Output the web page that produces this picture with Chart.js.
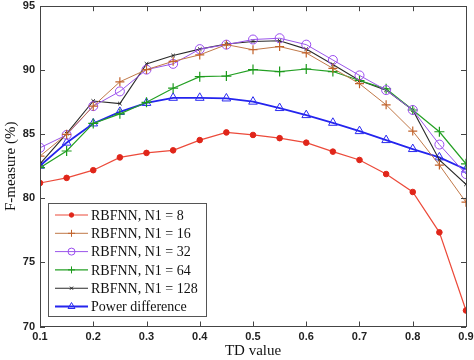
<!DOCTYPE html>
<html>
<head>
<meta charset="utf-8">
<script src="https://cdn.jsdelivr.net/npm/chart.js@4.4.1/dist/chart.umd.min.js"></script>
<style>
  html, body { margin: 0; padding: 0; background: #fff; }
  #wrap { width: 474px; height: 360px; position: relative; }
</style>
</head>
<body>
<div id="wrap"><canvas id="fChart" width="474" height="360"></canvas></div>
<script>
var tdValues = [0.1, 0.15, 0.2, 0.25, 0.3, 0.35, 0.4, 0.45, 0.5, 0.55, 0.6, 0.65, 0.7, 0.75, 0.8, 0.85, 0.9];

var n1_8   = [81.2, 81.6, 82.2, 83.2, 83.55, 83.75, 84.55, 85.15, 84.95, 84.7, 84.35, 83.65, 83.0, 81.9, 80.5, 77.35, 71.25];
var n1_16  = [83.3, 85.0, 87.2, 89.1, 90.05, 90.7, 91.2, 92.0, 91.6, 91.85, 91.35, 90.15, 88.95, 87.3, 85.25, 82.6, 79.7];
var n1_32  = [83.95, 84.95, 87.2, 88.35, 90.05, 90.5, 91.65, 92.0, 92.4, 92.5, 92.0, 90.8, 89.6, 88.45, 86.9, 84.2, 81.9];
var n1_64  = [82.4, 83.7, 85.85, 86.6, 87.5, 88.6, 89.5, 89.55, 90.05, 89.9, 90.1, 89.9, 89.2, 88.55, 86.9, 85.2, 82.7];
var n1_128 = [82.7, 85.05, 87.6, 87.4, 90.5, 91.15, 91.65, 92.05, 92.25, 92.3, 91.65, 90.45, 89.2, 88.45, 86.9, 83.0, 81.1];
var powerDiff = [82.55, 84.35, 85.85, 86.75, 87.45, 87.85, 87.85, 87.8, 87.55, 87.05, 86.5, 85.9, 85.25, 84.55, 83.85, 83.2, 82.25];

var xTickLabels = [0.1, 0.2, 0.3, 0.4, 0.5, 0.6, 0.7, 0.8, 0.9];
var yTickLabels = [70, 75, 80, 85, 90, 95];

var seriesNames = ["RBFNN, N1 = 8", "RBFNN, N1 = 16", "RBFNN, N1 = 32", "RBFNN, N1 = 64", "RBFNN, N1 = 128", "Power difference"];

function toPoints(vals) {
  return vals.map(function (v, i) { return { x: tdValues[i], y: v }; });
}

// legend marker sizes are smaller than the plotted ones
var legendRadius = [2.2, 3.5, 3.5, 3.5, 2.2, 4];

// box, inward ticks and legend drawn like the matlab figure
var framePlugin = {
  id: "frame",
  afterDraw: function (chart) {
    var ctx = chart.ctx;
    var a = chart.chartArea;
    var xs = chart.scales.x, ys = chart.scales.y;
    ctx.save();
    ctx.strokeStyle = "#444";
    ctx.lineWidth = 1;
    ctx.strokeRect(Math.round(a.left) + 0.5, Math.round(a.top) + 0.5, Math.round(a.right - a.left), Math.round(a.bottom - a.top));
    ctx.beginPath();
    xTickLabels.forEach(function (t) {
      var px = Math.round(xs.getPixelForValue(t)) + 0.5;
      ctx.moveTo(px, a.bottom); ctx.lineTo(px, a.bottom - 5);
      ctx.moveTo(px, a.top); ctx.lineTo(px, a.top + 5);
    });
    yTickLabels.forEach(function (t) {
      var py = Math.round(ys.getPixelForValue(t)) + 0.5;
      ctx.moveTo(a.left, py); ctx.lineTo(a.left + 5, py);
      ctx.moveTo(a.right, py); ctx.lineTo(a.right - 5, py);
    });
    ctx.stroke();

    // legend
    var bx = 48.5, by = 203.5, bw = 158, bh = 113;
    ctx.fillStyle = "#fff";
    ctx.fillRect(bx, by, bw, bh);
    ctx.strokeStyle = "#555";
    ctx.strokeRect(bx, by, bw, bh);
    ctx.font = "14px 'Liberation Serif', 'Times New Roman', serif";
    ctx.textBaseline = "middle";
    chart.data.datasets.forEach(function (ds, i) {
      var y = 215 + i * 18.3;
      ctx.strokeStyle = ds.borderColor;
      ctx.lineWidth = ds.borderWidth;
      ctx.beginPath();
      ctx.moveTo(55, y); ctx.lineTo(88, y);
      ctx.stroke();
      ctx.fillStyle = ds.pointBackgroundColor;
      ctx.strokeStyle = ds.pointBorderColor;
      ctx.lineWidth = 1;
      Chart.helpers.drawPoint(ctx, { pointStyle: ds.pointStyle, radius: legendRadius[i], rotation: 0, borderWidth: 1 }, 71.5, y);
      ctx.fillStyle = "#111";
      ctx.fillText(ds.label, 91, y + 1);
    });
    ctx.restore();
  }
};

var tickFont = { family: "'Liberation Sans', Arial, sans-serif", size: 11, weight: "bold" };
var titleFont = { family: "'Liberation Serif', 'Times New Roman', serif", size: 15 };

var config = {
  type: "line",
  data: {
    datasets: [
      {
        label: seriesNames[0], data: toPoints(n1_8),
        borderColor: "#ec4a3a", borderWidth: 1.2,
        pointStyle: "circle", pointRadius: 2.8,
        pointBackgroundColor: "#e0261a", pointBorderColor: "#e0261a", pointBorderWidth: 1
      },
      {
        label: seriesNames[1], data: toPoints(n1_16),
        borderColor: "#c07848", borderWidth: 1,
        pointStyle: "cross", pointRadius: 4.5,
        pointBackgroundColor: "#c2622a", pointBorderColor: "#c2622a", pointBorderWidth: 1.2
      },
      {
        label: seriesNames[2], data: toPoints(n1_32),
        borderColor: "#9a55ea", borderWidth: 1,
        pointStyle: "circle", pointRadius: 4.5,
        pointBackgroundColor: "rgba(0,0,0,0)", pointBorderColor: "#9a4cf0", pointBorderWidth: 1
      },
      {
        label: seriesNames[3], data: toPoints(n1_64),
        borderColor: "#24a024", borderWidth: 1.2,
        pointStyle: "cross", pointRadius: 5,
        pointBackgroundColor: "#1c9a1c", pointBorderColor: "#1c9a1c", pointBorderWidth: 1.2
      },
      {
        label: seriesNames[4], data: toPoints(n1_128),
        borderColor: "#2a2a2a", borderWidth: 1.1,
        pointStyle: "crossRot", pointRadius: 2.5,
        pointBackgroundColor: "#222", pointBorderColor: "#222", pointBorderWidth: 1
      },
      {
        label: seriesNames[5], data: toPoints(powerDiff),
        borderColor: "#2424ee", borderWidth: 1.8,
        pointStyle: "triangle", pointRadius: 5,
        pointBackgroundColor: "rgba(0,0,0,0)", pointBorderColor: "#2a2af0", pointBorderWidth: 1
      }
    ]
  },
  options: {
    responsive: false,
    animation: false,
    layout: { padding: { top: 5, right: 8, left: 0, bottom: 0 } },
    plugins: {
      legend: { display: false },
      tooltip: { enabled: false }
    },
    elements: { line: { tension: 0 } },
    scales: {
      x: {
        type: "linear", min: 0.1, max: 0.9,
        afterBuildTicks: function (axis) {
          axis.ticks = xTickLabels.map(function (v) { return { value: v }; });
        },
        afterFit: function (axis) {
          axis.height = 33.5;
          axis.paddingLeft = 0; axis.paddingRight = 0;
        },
        grid: { display: false, drawTicks: false },
        border: { display: false },
        ticks: {
          font: tickFont, color: "#222", padding: 4, maxRotation: 0,
          callback: function (v) { return Number(v).toFixed(1); }
        },
        title: { display: true, text: "TD value", font: titleFont, color: "#111", padding: { top: 0, bottom: 0 } }
      },
      y: {
        min: 70, max: 95,
        afterBuildTicks: function (axis) {
          axis.ticks = yTickLabels.map(function (v) { return { value: v }; });
        },
        afterFit: function (axis) {
          axis.width = 40;
          axis.paddingTop = 0; axis.paddingBottom = 0;
        },
        grid: { display: false, drawTicks: false },
        border: { display: false },
        ticks: { font: tickFont, color: "#222", padding: 5 },
        title: { display: true, text: "F-measure (%)", font: titleFont, color: "#111", padding: { top: 2, bottom: 2 } }
      }
    }
  },
  plugins: [framePlugin]
};

var fChart = new Chart(document.getElementById("fChart"), config);
</script>
</body>
</html>
